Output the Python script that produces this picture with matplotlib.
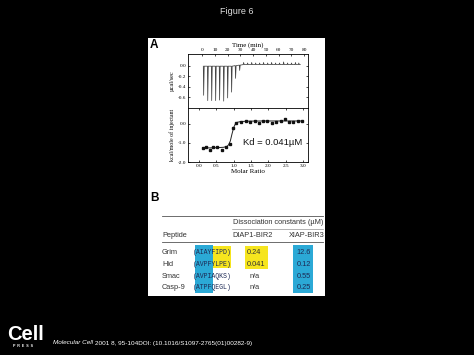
import matplotlib
matplotlib.use("Agg")
import matplotlib.pyplot as plt
from matplotlib.patches import Rectangle

# ---------------- data ----------------
inj_time = [1.0, 4.2, 7.3, 10.4, 13.5, 16.7, 19.8, 22.9, 26.0, 29.2, 32.3, 35.4, 38.6,
            41.7, 44.8, 47.9, 51.1, 54.2, 57.3, 60.4, 63.6, 66.7, 69.8, 72.9, 75.5]
inj_peak = [-0.56, -0.66, -0.66, -0.66, -0.65, -0.67, -0.61, -0.50, -0.24, -0.09,
            0.06, 0.05, 0.06, 0.05, 0.05, 0.06, 0.05, 0.06, 0.05, 0.05, 0.07, 0.05, 0.05, 0.06, 0.05]
inj_base = [-0.01, -0.01, -0.01, -0.01, -0.01, -0.01, -0.01, -0.01, 0.0, 0.01,
            0.02, 0.02, 0.02, 0.02, 0.02, 0.02, 0.02, 0.02, 0.02, 0.02, 0.02, 0.02, 0.02, 0.02, 0.02]

ratio = [0.10, 0.20, 0.30, 0.41, 0.51, 0.65, 0.77, 0.88, 0.98, 1.06, 1.22, 1.35, 1.47,
         1.60, 1.72, 1.85, 1.97, 2.10, 2.22, 2.35, 2.47, 2.60, 2.72, 2.85, 2.97]
heat = [-1.25, -1.24, -1.35, -1.20, -1.22, -1.35, -1.20, -1.08, -0.22, 0.02, 0.12, 0.13,
        0.08, 0.14, 0.07, 0.15, 0.16, 0.02, 0.10, 0.16, 0.27, 0.12, 0.08, 0.16, 0.15]
fit_x = [0.1, 0.3, 0.5, 0.7, 0.8, 0.85, 0.9, 0.95, 1.0, 1.05, 1.1, 1.2, 1.4, 1.8, 2.4, 3.0]
fit_y = [-1.26, -1.26, -1.25, -1.23, -1.19, -1.10, -0.90, -0.52, -0.18, 0.01, 0.08, 0.12,
         0.14, 0.15, 0.15, 0.15]

time_ticks = [0, 10, 20, 30, 40, 50, 60, 70, 80]
power_ticks = [0.0, -0.2, -0.4, -0.6]
ratio_ticks = [0.0, 0.5, 1.0, 1.5, 2.0, 2.5, 3.0]
heat_ticks = [0.0, -1.0, -2.0]

peptides = ['Grim', 'Hid', 'Smac', 'Casp-9']
sequences = ['AIAYFIPD', 'AVPFYLPE', 'AVPIAQKS', 'ATPFQEGL']
diap1 = ['0.24', '0.041', 'n/a', 'n/a']
xiap = ['12.6', '0.12', '0.55', '0.25']

CYAN = '#2BA9D6'
YELLOW = '#F6E51E'
W, H = 474, 355

fig = plt.figure(figsize=(W / 100, H / 100), dpi=100, facecolor='black')

# background / layout axes in pixel coordinates
bg = fig.add_axes([0, 0, 1, 1])
bg.set_xlim(0, W)
bg.set_ylim(H, 0)
bg.axis('off')
bg.set_facecolor('black')
bg.add_patch(Rectangle((148, 38), 177, 258, facecolor='white', edgecolor='none'))

bg.text(237, 12, 'Figure 6', color='#dddddd', fontsize=6.5, ha='center', va='center',
        family='Liberation Sans')
bg.text(150, 45, 'A', fontsize=8.5, fontweight='bold', ha='left', va='center', family='Liberation Sans')
bg.text(150, 198, 'B', fontsize=8.5, fontweight='bold', ha='left', va='center', family='Liberation Sans')

# ---------------- ITC panels ----------------
serif = 'Liberation Serif'
ax1 = fig.add_axes([188 / W, 1 - 108 / H, 120 / W, 54 / H])
ax2 = fig.add_axes([188 / W, 1 - 162 / H, 120 / W, 54 / H])

tx, ty = [], []
for i, (t, p, b) in enumerate(zip(inj_time, inj_peak, inj_base)):
    tx += [t, t + 0.25, t + 0.7]
    ty += [b, p, b]
    nt = inj_time[i + 1] if i + 1 < len(inj_time) else t + 1.5
    tx.append(nt - 0.05)
    ty.append(inj_base[i + 1] if i + 1 < len(inj_base) else b)
ax1.plot(tx, ty, color='#444444', lw=0.55)
ax1.set_xlim(-11, 83)
ax1.set_ylim(-0.80, 0.22)
ax1.xaxis.tick_top()
ax1.set_xticks(time_ticks)
ax1.set_xticklabels([str(v) for v in time_ticks])
ax1.set_yticks(power_ticks)
ax1.set_yticklabels(['%.1f' % v for v in power_ticks])
ax1.xaxis.set_label_position('top')
ax1.set_xlabel('Time (min)', family=serif, fontsize=5, labelpad=1)
ax1.set_ylabel('µcal/sec', family=serif, fontsize=4.5, labelpad=2)

ax2.plot(fit_x, fit_y, color='#222222', lw=0.7)
ax2.plot(ratio, heat, 's', color='#111111', ms=1.8)
ax2.set_xlim(-0.32, 3.14)
ax2.set_ylim(-2.0, 0.83)
ax2.set_xticks(ratio_ticks)
ax2.set_xticklabels(['%.1f' % v for v in ratio_ticks])
ax2.set_yticks(heat_ticks)
ax2.set_yticklabels(['%.1f' % v for v in heat_ticks])
ax2.set_xlabel('Molar Ratio', family=serif, fontsize=5, labelpad=1)
ax2.set_ylabel('kcal/mole of injectant', family=serif, fontsize=4.2, labelpad=2)
ax2.text(2.13, -1.0, 'Kd = 0.041µM', fontsize=6.8, ha='center', va='center',
         family='Liberation Sans', color='#111111')

for ax in (ax1, ax2):
    ax.set_facecolor('white')
    ax.tick_params(direction='in', length=1.5, width=0.5, labelsize=3.8, pad=1.5,
                   top=True, right=True)
    for lab in ax.get_xticklabels() + ax.get_yticklabels():
        lab.set_family(serif)
    for s in ax.spines.values():
        s.set_linewidth(0.6)
ax1.tick_params(labelbottom=False, labeltop=True)

# ---------------- table ----------------
sans = 'Liberation Sans'
tc = '#333333'
fs = 5.3
# highlights
bg.add_patch(Rectangle((195, 245), 18, 48, facecolor=CYAN, edgecolor='none'))
bg.add_patch(Rectangle((213, 246), 18, 22, facecolor=YELLOW, edgecolor='none'))
bg.add_patch(Rectangle((245, 246), 23, 23, facecolor=YELLOW, edgecolor='none'))
bg.add_patch(Rectangle((293, 245), 20, 48, facecolor=CYAN, edgecolor='none'))
# rules
bg.plot([162, 323], [216, 216], color='#555555', lw=0.6)
bg.plot([232, 323], [228.5, 228.5], color='#777777', lw=0.4)
bg.plot([162, 323], [242, 242], color='#555555', lw=0.6)

bg.text(278, 222.5, 'Dissociation constants (µM)', fontsize=fs, ha='center', va='center',
        family=sans, color=tc)
bg.text(162, 235.5, 'Peptide', fontsize=fs, ha='left', va='center', family=sans, color=tc)
bg.text(253, 235.5, 'DIAP1-BIR2', fontsize=fs, ha='center', va='center', family=sans, color=tc)
bg.text(307, 235.5, 'XIAP-BIR3', fontsize=fs, ha='center', va='center', family=sans, color=tc)

row_y = [253, 264.5, 276, 287.5]
for y, name, seq, d, x in zip(row_y, peptides, sequences, diap1, xiap):
    bg.text(162, y, name, fontsize=fs, ha='left', va='center', family=sans, color=tc)
    bg.text(193, y, '(' + seq + ')', fontsize=4.7, ha='left', va='center',
            family='Liberation Mono', color='#1d2a55')
    bg.text(247 if d != 'n/a' else 250, y, d, fontsize=fs, ha='left', va='center',
            family=sans, color=tc)
    bg.text(311, y, x, fontsize=fs, ha='right', va='center', family=sans, color='#1d2a55')

# ---------------- footer ----------------
bg.text(7, 340, 'Cell', fontsize=14.5, fontweight='bold', color='white', ha='left',
        va='baseline', family=sans)
bg.text(23, 346, 'P  R  E  S  S', fontsize=2.6, color='white', ha='center', va='center',
        family=sans, fontweight='bold')
t1 = bg.text(53, 343, 'Molecular Cell', fontsize=4.6, style='italic', color='white',
             ha='left', va='center', family=sans)
fig.canvas.draw()
bb = t1.get_window_extent(fig.canvas.get_renderer())
x_end = bb.x1  # display pixels == bg data x
bg.text(x_end + 2, 343, '2001 8, 95-104DOI: (10.1016/S1097-2765(01)00282-9)', fontsize=4.6,
        color='white', ha='left', va='center', family=sans)

fig.savefig('out.png', dpi=100, facecolor='black')
